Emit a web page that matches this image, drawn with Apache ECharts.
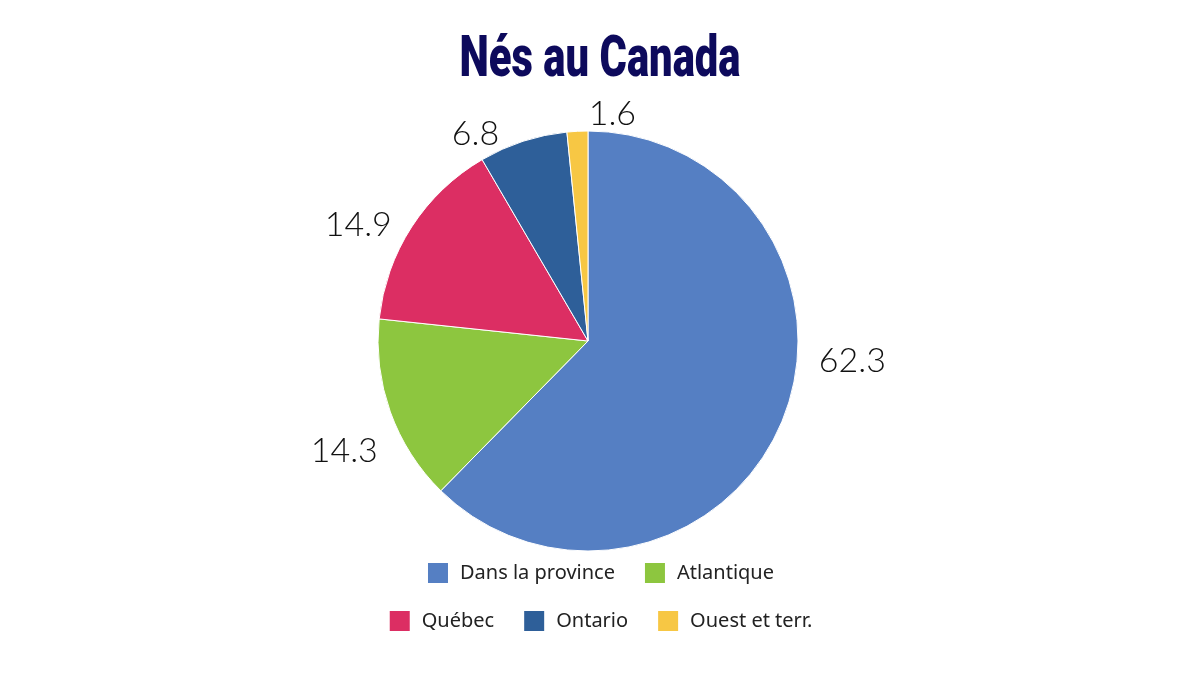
<!DOCTYPE html>
<html>
<head>
<meta charset="utf-8">
<script src="https://cdn.jsdelivr.net/npm/echarts@6/dist/echarts.min.js"></script>
<style>
    html, body { margin: 0; padding: 0; background: #fff; }
    #chart { width: 1200px; height: 675px; }
</style>
</head>
<body>
<div id="chart"></div>
<script>
    // données
    var categories = ['Dans la province', 'Atlantique', 'Québec', 'Ontario', 'Ouest et terr.'];
    var values = [62.3, 14.3, 14.9, 6.8, 1.6];
    var colors = ['#557fc3', '#8dc63f', '#dc2e63', '#2e5f99', '#f7c744'];

    // décalage des étiquettes (dx, dy)
    var labelShift = [[24, -63], [0, 36], [-13, 2], [32, -25], [64, -9]];

    var pieData = [];
    for (var i = 0; i < categories.length; i++) {
        pieData.push({ name: categories[i], value: values[i] });
    }

    var myChart = echarts.init(document.getElementById('chart'));
    var legendText = { fontFamily: 'Noto Sans', fontSize: 20, color: '#222', padding: [0, 0, 0, 6] };
    var option = {
        color: colors,
        animation: false,
        // titre condensé (pas de police étroite installée)
        graphic: [
            {
                type: 'text',
                x: 600,
                y: 61,
                scaleX: 0.72,
                style: {
                    text: 'Nés au Canada',
                    align: 'center',
                    verticalAlign: 'middle',
                    fontFamily: 'Roboto',
                    fontWeight: 900,
                    fontSize: 58,
                    fill: '#0d0a5c'
                }
            }
        ],
        legend: [
            {
                data: categories.slice(0, 2),
                left: 'center',
                top: 556,
                itemWidth: 22,
                itemHeight: 22,
                itemGap: 28,
                icon: 'rect',
                textStyle: legendText
            },
            {
                data: categories.slice(2),
                left: 'center',
                top: 604,
                itemWidth: 22,
                itemHeight: 22,
                itemGap: 28,
                icon: 'rect',
                textStyle: legendText
            }
        ],
        series: [
            {
                type: 'pie',
                center: [588, 341],
                radius: [0, 210],
                startAngle: 90,
                clockwise: true,
                data: pieData,
                itemStyle: { borderColor: '#fff', borderWidth: 1 },
                label: {
                    show: true,
                    position: 'outside',
                    formatter: '{c}',
                    fontFamily: 'Lato',
                    fontWeight: 300,
                    fontSize: 34,
                    color: '#111'
                },
                labelLine: { show: false, length: 8, length2: 0 },
                labelLayout: function (params) {
                    var s = labelShift[params.dataIndex];
                    return { dx: s[0], dy: s[1] };
                }
            }
        ]
    };
    myChart.setOption(option);
</script>
</body>
</html>
